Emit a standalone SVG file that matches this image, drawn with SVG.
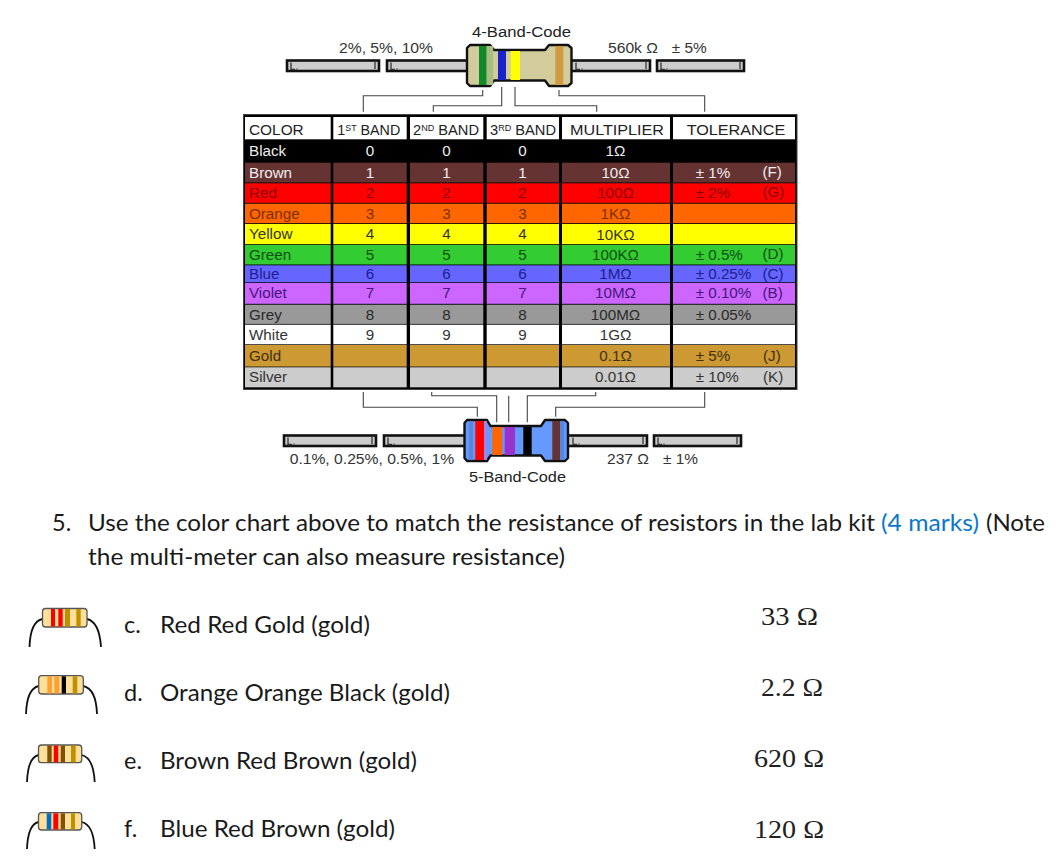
<svg xmlns="http://www.w3.org/2000/svg" width="1060" height="866" viewBox="0 0 1060 866">
<style>
text{font-family:"Liberation Sans",Arial,sans-serif;font-size:15.2px;fill:#333}
.c{text-anchor:middle}
.h{font-size:15.4px;fill:#222}
.sup{font-size:9.500px}
.doc{font-family:Lato,"Open Sans",sans-serif;font-size:23.500px;fill:#1a1a1a}
.val{font-family:"Liberation Serif","DejaVu Serif",serif;font-size:26px;fill:#222}
.lead{fill:#ccc;stroke:#111;stroke-width:2.600}
.tick{fill:none;stroke:#333;stroke-width:1.300}
.wire{fill:none;stroke:#444;stroke-width:1.100}
.body{stroke:#111;stroke-width:2.400;stroke-linejoin:round}
.mini{fill:#ffe09a;stroke:#555;stroke-width:1.300}
.leg{fill:none;stroke:#111;stroke-width:1.800}
.w{fill:#eee}.r{fill:#8c0000}.o{fill:#7a3000}.y{fill:#333}.g{fill:#0f4f0f}.b{fill:#1b2090}.v{fill:#45167c}.gy{fill:#2a2a2a}.wh{fill:#333}.au{fill:#42300c}.ag{fill:#333}
</style>
<defs>
<path id="tk" class="tick" d="M4 2V9H8M10 8V9"/>
</defs>

<g id="connectors">
<path class="wire" d="M482.700 90V95.700H363.300V111.700"/>
<path class="wire" d="M501.700 87V105.700H433.300V111.700"/>
<path class="wire" d="M515 87V105.700H596.700V111.700"/>
<path class="wire" d="M559 90V95.700H704.700V111.700"/>
<path class="wire" d="M363.300 392V407.300H477.300V416.700"/>
<path class="wire" d="M431.700 392V395.700H496.700V422.300"/>
<path class="wire" d="M508.700 395.700V422.300"/>
<path class="wire" d="M595.700 392V395.700H527.300V422.300"/>
<path class="wire" d="M704.700 392V407.300H555.700V416.700"/>
</g>

<g id="resistor-4band">
<text class="h c" x="521.500" y="37" textLength="99" lengthAdjust="spacingAndGlyphs">4-Band-Code</text>
<text x="339" y="52.700" textLength="94" lengthAdjust="spacingAndGlyphs">2%, 5%, 10%</text>
<text x="608" y="52.700" textLength="50" lengthAdjust="spacingAndGlyphs">560k Ω</text>
<text x="671.700" y="52.700" textLength="35" lengthAdjust="spacingAndGlyphs">± 5%</text>
<rect class="lead" x="287" y="60.500" width="92" height="10.500"/><use href="#tk" x="287" y="60.500"/><path class="tick" d="M375 62V69"/>
<rect class="lead" x="387" y="60.500" width="82" height="10.500"/><use href="#tk" x="387" y="60.500"/>
<rect class="lead" x="570" y="60.500" width="80" height="10.500"/><use href="#tk" x="572" y="60.500"/><path class="tick" d="M646 62V69"/>
<rect class="lead" x="657" y="60.500" width="87" height="10.500"/><use href="#tk" x="657" y="60.500"/><path class="tick" d="M740 62V69"/>
<path class="body" fill="#d2cc9c" d="M470 45H490L494 50H545L549 45H568L571.500 48V83L568 86H549L545 80.500H494L490 86H470L467 83V48Z"/>
<rect x="479" y="46" width="7.700" height="39" fill="#108a2a"/>
<rect x="486.700" y="46" width="6.500" height="39" fill="#a8bc84"/>
<rect x="498" y="51" width="8" height="29" fill="#1a22cc"/>
<rect x="510.700" y="51" width="9.300" height="29" fill="#ffff00"/>
<rect x="555.300" y="46" width="8" height="39" fill="#cf9a40"/>
</g>

<g id="color-table">
<rect x="243.500" y="114.500" width="553.500" height="275" fill="#000" stroke="#444" stroke-width="1"/>
<g fill="#fff">
<rect x="245" y="117" width="85.700" height="22.300"/><rect x="333.300" y="117" width="73.400" height="22.300"/><rect x="410" y="117" width="73.300" height="22.300"/><rect x="486.700" y="117" width="72.300" height="22.300"/><rect x="562" y="117" width="108" height="22.300"/><rect x="673" y="117" width="122" height="22.300"/>
</g>
<g fill="#663333"><rect x="245" y="162.700" width="85.700" height="19.800"/><rect x="333.300" y="162.700" width="73.400" height="19.800"/><rect x="410" y="162.700" width="73.300" height="19.800"/><rect x="486.700" y="162.700" width="72.300" height="19.800"/><rect x="562" y="162.700" width="108" height="19.800"/><rect x="673" y="162.700" width="122" height="19.800"/></g>
<g fill="#ff0000"><rect x="245" y="183.300" width="85.700" height="19.500"/><rect x="333.300" y="183.300" width="73.400" height="19.500"/><rect x="410" y="183.300" width="73.300" height="19.500"/><rect x="486.700" y="183.300" width="72.300" height="19.500"/><rect x="562" y="183.300" width="108" height="19.500"/><rect x="673" y="183.300" width="122" height="19.500"/></g>
<g fill="#ff6600"><rect x="245" y="203.700" width="85.700" height="19.500"/><rect x="333.300" y="203.700" width="73.400" height="19.500"/><rect x="410" y="203.700" width="73.300" height="19.500"/><rect x="486.700" y="203.700" width="72.300" height="19.500"/><rect x="562" y="203.700" width="108" height="19.500"/><rect x="673" y="203.700" width="122" height="19.500"/></g>
<g fill="#ffff00"><rect x="245" y="224" width="85.700" height="20.200"/><rect x="333.300" y="224" width="73.400" height="20.200"/><rect x="410" y="224" width="73.300" height="20.200"/><rect x="486.700" y="224" width="72.300" height="20.200"/><rect x="562" y="224" width="108" height="20.200"/><rect x="673" y="224" width="122" height="20.200"/></g>
<g fill="#33cc33"><rect x="245" y="245" width="85.700" height="19.500"/><rect x="333.300" y="245" width="73.400" height="19.500"/><rect x="410" y="245" width="73.300" height="19.500"/><rect x="486.700" y="245" width="72.300" height="19.500"/><rect x="562" y="245" width="108" height="19.500"/><rect x="673" y="245" width="122" height="19.500"/></g>
<g fill="#6666ff"><rect x="245" y="265.300" width="85.700" height="17"/><rect x="333.300" y="265.300" width="73.400" height="17"/><rect x="410" y="265.300" width="73.300" height="17"/><rect x="486.700" y="265.300" width="72.300" height="17"/><rect x="562" y="265.300" width="108" height="17"/><rect x="673" y="265.300" width="122" height="17"/></g>
<g fill="#cc66ff"><rect x="245" y="283" width="85.700" height="20.800"/><rect x="333.300" y="283" width="73.400" height="20.800"/><rect x="410" y="283" width="73.300" height="20.800"/><rect x="486.700" y="283" width="72.300" height="20.800"/><rect x="562" y="283" width="108" height="20.800"/><rect x="673" y="283" width="122" height="20.800"/></g>
<g fill="#999999"><rect x="245" y="304.700" width="85.700" height="19.200"/><rect x="333.300" y="304.700" width="73.400" height="19.200"/><rect x="410" y="304.700" width="73.300" height="19.200"/><rect x="486.700" y="304.700" width="72.300" height="19.200"/><rect x="562" y="304.700" width="108" height="19.200"/><rect x="673" y="304.700" width="122" height="19.200"/></g>
<g fill="#ffffff"><rect x="245" y="324.700" width="85.700" height="19.600"/><rect x="333.300" y="324.700" width="73.400" height="19.600"/><rect x="410" y="324.700" width="73.300" height="19.600"/><rect x="486.700" y="324.700" width="72.300" height="19.600"/><rect x="562" y="324.700" width="108" height="19.600"/><rect x="673" y="324.700" width="122" height="19.600"/></g>
<g fill="#cc9933"><rect x="245" y="345" width="85.700" height="21.600"/><rect x="333.300" y="345" width="73.400" height="21.600"/><rect x="410" y="345" width="73.300" height="21.600"/><rect x="486.700" y="345" width="72.300" height="21.600"/><rect x="562" y="345" width="108" height="21.600"/><rect x="673" y="345" width="122" height="21.600"/></g>
<g fill="#cccccc"><rect x="245" y="367.300" width="85.700" height="20"/><rect x="333.300" y="367.300" width="73.400" height="20"/><rect x="410" y="367.300" width="73.300" height="20"/><rect x="486.700" y="367.300" width="72.300" height="20"/><rect x="562" y="367.300" width="108" height="20"/><rect x="673" y="367.300" width="122" height="20"/></g>

<text class="h" x="249" y="135">COLOR</text>
<text class="h" x="337.300" y="135" textLength="63" lengthAdjust="spacingAndGlyphs">1<tspan class="sup" dy="-4">ST</tspan><tspan dy="4"> BAND</tspan></text>
<text class="h" x="413" y="135" textLength="66" lengthAdjust="spacingAndGlyphs">2<tspan class="sup" dy="-4">ND</tspan><tspan dy="4"> BAND</tspan></text>
<text class="h" x="490" y="135" textLength="66" lengthAdjust="spacingAndGlyphs">3<tspan class="sup" dy="-4">RD</tspan><tspan dy="4"> BAND</tspan></text>
<text class="h" x="570" y="135" textLength="94" lengthAdjust="spacingAndGlyphs">MULTIPLIER</text>
<text class="h" x="686.700" y="135" textLength="98.500" lengthAdjust="spacingAndGlyphs">TOLERANCE</text>

<g><text class="w" x="249" y="156">Black</text><text class="w c" x="370" y="156">0</text><text class="w c" x="446.500" y="156">0</text><text class="w c" x="522.500" y="156">0</text><text class="w c" x="615.500" y="156">1Ω</text></g>
<g><text class="w" x="249" y="178">Brown</text><text class="w c" x="370" y="178">1</text><text class="w c" x="446.500" y="178">1</text><text class="w c" x="522.500" y="178">1</text><text class="w c" x="615.500" y="178">10Ω</text><text class="w" x="695.700" y="178">± 1%</text><text class="w" x="762.500" y="177">(F)</text></g>
<g><text class="r" x="249" y="198">Red</text><text class="r c" x="370" y="198">2</text><text class="r c" x="446.500" y="198">2</text><text class="r c" x="522.500" y="198">2</text><text class="r c" x="615.500" y="198">100Ω</text><text class="r" x="695.700" y="198">± 2%</text><text class="r" x="762.500" y="197">(G)</text></g>
<g><text class="o" x="249" y="219">Orange</text><text class="o c" x="370" y="219">3</text><text class="o c" x="446.500" y="219">3</text><text class="o c" x="522.500" y="219">3</text><text class="o c" x="615.500" y="219">1KΩ</text></g>
<g><text class="y" x="249" y="239">Yellow</text><text class="y c" x="370" y="239">4</text><text class="y c" x="446.500" y="239">4</text><text class="y c" x="522.500" y="239">4</text><text class="y c" x="615.500" y="240">10KΩ</text></g>
<g><text class="g" x="249" y="260">Green</text><text class="g c" x="370" y="260">5</text><text class="g c" x="446.500" y="260">5</text><text class="g c" x="522.500" y="260">5</text><text class="g c" x="615.500" y="260">100KΩ</text><text class="g" x="695.700" y="260">± 0.5%</text><text class="g" x="762.500" y="259">(D)</text></g>
<g><text class="b" x="249" y="279">Blue</text><text class="b c" x="370" y="279">6</text><text class="b c" x="446.500" y="279">6</text><text class="b c" x="522.500" y="279">6</text><text class="b c" x="615.500" y="279">1MΩ</text><text class="b" x="695.700" y="279">± 0.25%</text><text class="b" x="762.500" y="279">(C)</text></g>
<g><text class="v" x="249" y="298">Violet</text><text class="v c" x="370" y="298">7</text><text class="v c" x="446.500" y="298">7</text><text class="v c" x="522.500" y="298">7</text><text class="v c" x="615.500" y="298">10MΩ</text><text class="v" x="695.700" y="298">± 0.10%</text><text class="v" x="762.500" y="298">(B)</text></g>
<g><text class="gy" x="249" y="320">Grey</text><text class="gy c" x="370" y="320">8</text><text class="gy c" x="446.500" y="320">8</text><text class="gy c" x="522.500" y="320">8</text><text class="gy c" x="615.500" y="320">100MΩ</text><text class="gy" x="695.700" y="320">± 0.05%</text></g>
<g><text class="wh" x="249" y="340">White</text><text class="wh c" x="370" y="340">9</text><text class="wh c" x="446.500" y="340">9</text><text class="wh c" x="522.500" y="340">9</text><text class="wh c" x="615.500" y="340">1GΩ</text></g>
<g><text class="au" x="249" y="361">Gold</text><text class="au c" x="615.500" y="361">0.1Ω</text><text class="au" x="695.700" y="361">± 5%</text><text class="au" x="763" y="361">(J)</text></g>
<g><text class="ag" x="249" y="382">Silver</text><text class="ag c" x="615.500" y="382">0.01Ω</text><text class="ag" x="695.700" y="382">± 10%</text><text class="ag" x="763" y="382">(K)</text></g>
</g>

<g id="resistor-5band">
<rect class="lead" x="284" y="435.500" width="92" height="10.500"/><use href="#tk" x="284" y="435.500"/><path class="tick" d="M372 437V444"/>
<rect class="lead" x="384" y="435.500" width="82" height="10.500"/><use href="#tk" x="384" y="435.500"/>
<rect class="lead" x="567" y="435.500" width="80" height="10.500"/><use href="#tk" x="569" y="435.500"/><path class="tick" d="M643 437V444"/>
<rect class="lead" x="654" y="435.500" width="87" height="10.500"/><use href="#tk" x="654" y="435.500"/><path class="tick" d="M737 437V444"/>
<path class="body" fill="#6699ff" d="M467 420H487L490.500 426H541L545 420H565L568 423V458L565 461H545L541 455.500H490.500L487 461H467L464.500 458V423Z"/>
<rect x="469" y="421" width="4" height="39" fill="#5588dd"/>
<rect x="475.300" y="421" width="8.700" height="39" fill="#ff0000"/>
<rect x="484" y="421" width="3" height="39" fill="#9a88e8"/>
<rect x="492.300" y="427" width="10" height="28" fill="#ff6600"/>
<rect x="504.700" y="427" width="10.300" height="28" fill="#9933cc"/>
<rect x="523.300" y="427" width="8.400" height="28" fill="#000"/>
<rect x="552.300" y="421" width="7.700" height="39" fill="#663333"/>
<rect x="560" y="421" width="4" height="39" fill="#5588dd"/>
<text x="289.700" y="464" textLength="164.500" lengthAdjust="spacingAndGlyphs">0.1%, 0.25%, 0.5%, 1%</text>
<text x="607" y="464" textLength="42" lengthAdjust="spacingAndGlyphs">237 Ω</text>
<text x="663" y="464" textLength="35" lengthAdjust="spacingAndGlyphs">± 1%</text>
<text class="h c" x="517.500" y="481.700" textLength="97" lengthAdjust="spacingAndGlyphs">5-Band-Code</text>
</g>

<g id="question">
<text class="doc" x="52" y="531">5.</text>
<text class="doc" x="88" y="531" textLength="787" lengthAdjust="spacingAndGlyphs">Use the color chart above to match the resistance of resistors in the lab kit</text>
<text class="doc" x="881" y="531" textLength="98" lengthAdjust="spacingAndGlyphs" style="fill:#0a78c8">(4 marks)</text>
<text class="doc" x="986" y="531" textLength="59" lengthAdjust="spacingAndGlyphs">(Note</text>
<text class="doc" x="88" y="565" textLength="477" lengthAdjust="spacingAndGlyphs">the multi-meter can also measure resistance)</text>
</g>

<g id="item-c">
<path class="leg" d="M42.500 619C33 621 30 632 29.500 647M87 619C96 621 100 632 101 647"/>
<rect class="mini" x="42.500" y="608.500" width="44.500" height="18.500" rx="3"/>
<rect x="51" y="609" width="4" height="17.500" fill="#ff0000"/><rect x="58.300" y="609" width="4.400" height="17.500" fill="#ff0000"/><rect x="65" y="609" width="5" height="17.500" fill="#bf9000"/><rect x="76.300" y="609" width="4.400" height="17.500" fill="#bf9000"/>
<text class="doc" x="124" y="633">c.</text>
<text class="doc" x="160" y="633" textLength="210" lengthAdjust="spacingAndGlyphs">Red Red Gold (gold)</text>
<text class="val" x="761" y="625" textLength="57" lengthAdjust="spacingAndGlyphs">33 Ω</text>
</g>
<g id="item-d">
<path class="leg" d="M38.700 686C30 688 26.500 699 26 714M83.300 686C92 688 96.500 699 97 714"/>
<rect class="mini" x="38.700" y="675.700" width="44.600" height="18.300" rx="3"/>
<rect x="47.300" y="676.300" width="4.700" height="17.200" fill="#ffa033"/><rect x="54.300" y="676.300" width="5" height="17.200" fill="#ffa033"/><rect x="61.700" y="676.300" width="4.300" height="17.200" fill="#000"/><rect x="72.700" y="676.300" width="4.600" height="17.200" fill="#bf9000"/>
<text class="doc" x="124" y="701">d.</text>
<text class="doc" x="160" y="701" textLength="290" lengthAdjust="spacingAndGlyphs">Orange Orange Black (gold)</text>
<text class="val" x="761" y="696" textLength="62" lengthAdjust="spacingAndGlyphs">2.2 Ω</text>
</g>
<g id="item-e">
<path class="leg" d="M38.500 755C30 757 27.500 768 27 782M81.700 755C90 757 94 768 94.700 782"/>
<rect class="mini" x="38.500" y="745" width="43.200" height="17.700" rx="3"/>
<rect x="47.300" y="745.600" width="4.400" height="16.600" fill="#7f5200"/><rect x="53.700" y="745.600" width="4.600" height="16.600" fill="#ff0000"/><rect x="60.700" y="745.600" width="4.300" height="16.600" fill="#7f5200"/><rect x="71" y="745.600" width="4.700" height="16.600" fill="#bf9000"/>
<text class="doc" x="124" y="769">e.</text>
<text class="doc" x="160" y="769" textLength="257" lengthAdjust="spacingAndGlyphs">Brown Red Brown (gold)</text>
<text class="val" x="754" y="767" textLength="70" lengthAdjust="spacingAndGlyphs">620 Ω</text>
</g>
<g id="item-f">
<path class="leg" d="M38.500 822C30 824 27.500 835 27 849M81.700 822C90 824 94 835 94.700 849"/>
<rect class="mini" x="38.500" y="812.700" width="43.200" height="17.300" rx="3"/>
<rect x="46.700" y="813.300" width="4.600" height="16.200" fill="#0070c0"/><rect x="53.300" y="813.300" width="5" height="16.200" fill="#ff0000"/><rect x="60.700" y="813.300" width="4.300" height="16.200" fill="#7f5200"/><rect x="71" y="813.300" width="4" height="16.200" fill="#bf9000"/>
<text class="doc" x="124" y="837">f.</text>
<text class="doc" x="160" y="837" textLength="235" lengthAdjust="spacingAndGlyphs">Blue Red Brown (gold)</text>
<text class="val" x="754" y="838" textLength="70" lengthAdjust="spacingAndGlyphs">120 Ω</text>
</g>
</svg>
